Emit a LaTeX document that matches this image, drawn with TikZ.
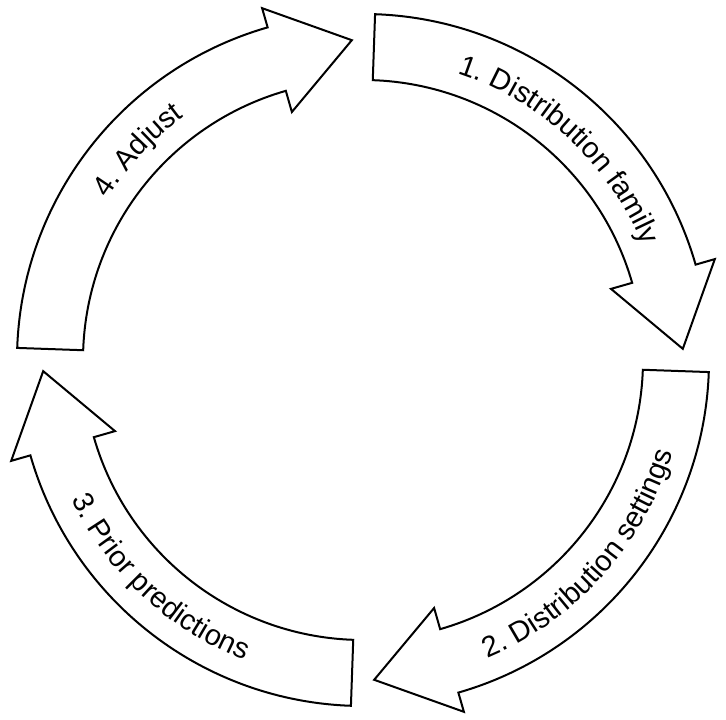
\documentclass[tikz,border=0pt]{standalone}
\usepackage{fontspec}
\setmainfont{Liberation Sans}
\usetikzlibrary{decorations.text}
\newcommand\cyclearrow[1]{%
  \pgfmathsetmacro\aS{#1}\pgfmathsetmacro\aE{#1-86}\pgfmathsetmacro\aH{#1-86+14}%
  \draw[arrowshape] (\aS:346pt) arc[start angle=\aS,end angle=\aH,radius=346pt]
    -- (\aH:366pt) -- (\aE:320pt) -- (\aH:258pt) -- (\aH:280pt)
    arc[start angle=\aH,end angle=\aS,radius=280pt] -- cycle;}
\tikzset{arrowshape/.style={draw=black,line width=2pt,fill=white,line join=miter},
  cwtext/.style={decorate,decoration={text along path,text align=center,
    text={|\fontsize{29}{32}\selectfont|#1}}}}
\begin{document}
\begin{tikzpicture}
\useasboundingbox (0,0) rectangle (726pt,720pt);
\begin{scope}[shift={(363pt,360pt)}]
\cyclearrow{88}
\cyclearrow{-2}
\cyclearrow{-92}
\cyclearrow{178}
\path[cwtext={1. Distribution family}] (86:302pt) arc[start angle=86,end angle=8,radius=302pt];
\path[cwtext={4. Adjust}] (176:302pt) arc[start angle=176,end angle=98,radius=302pt];
\path[cwtext={2. Distribution settings}] (-80:323pt) arc[start angle=-80,end angle=-4,radius=323pt];
\path[cwtext={3. Prior predictions}] (-172:323pt) arc[start angle=-172,end angle=-94,radius=323pt];
\end{scope}
\end{tikzpicture}
\end{document}
